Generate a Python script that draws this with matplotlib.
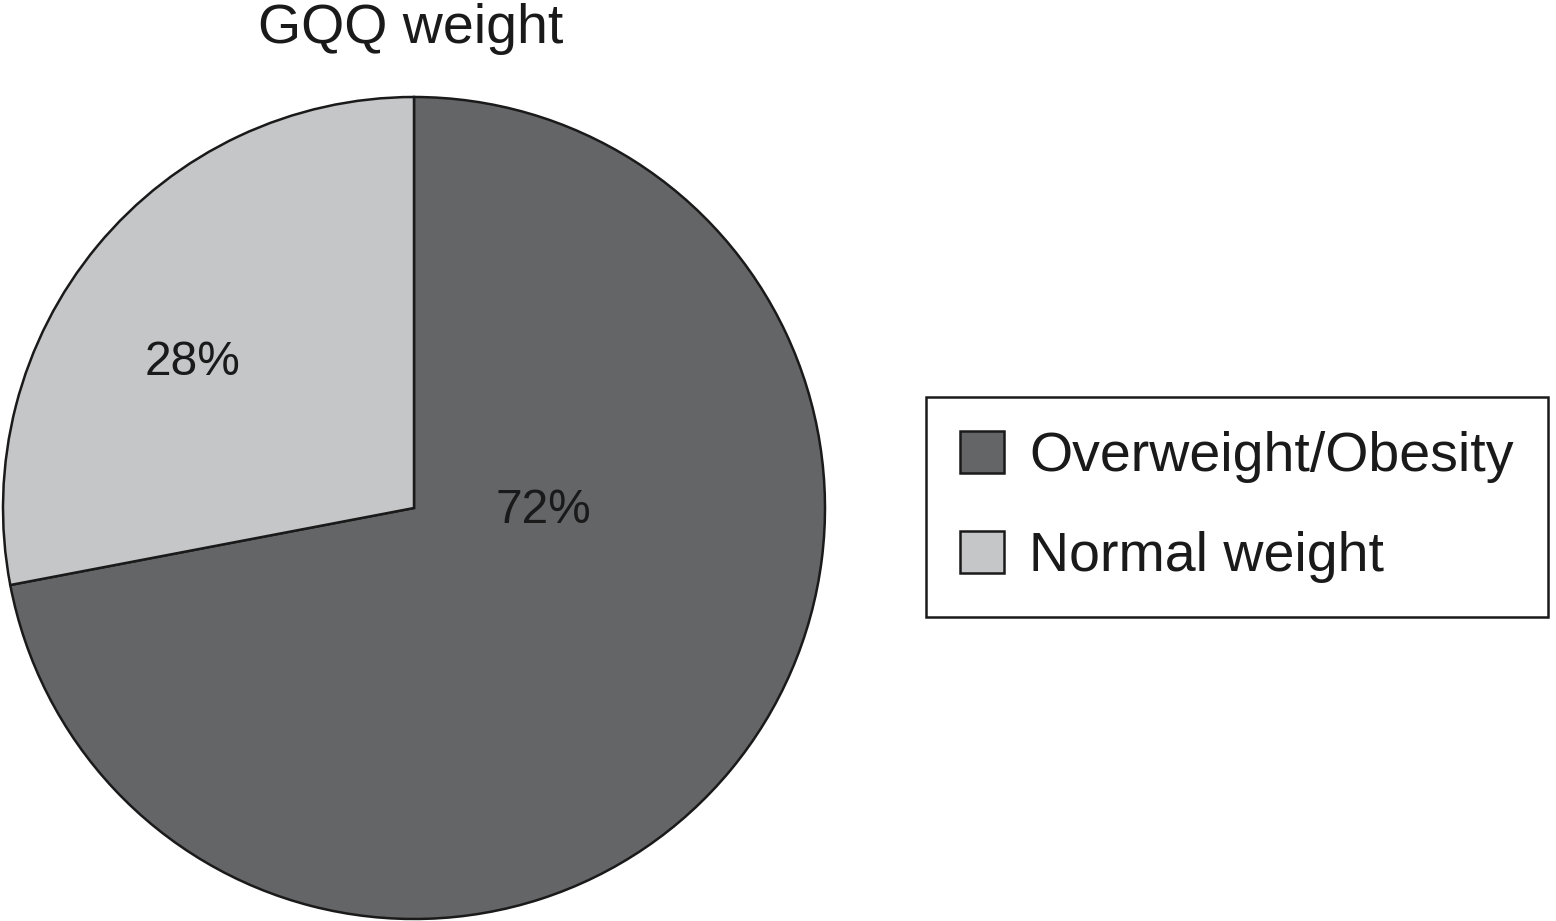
import matplotlib.pyplot as plt
from matplotlib.patches import Patch

plt.rcParams['font.family'] = ['Liberation Sans', 'DejaVu Sans']

# data
categories = ['Overweight/Obesity', 'Normal weight']
shares = [72, 28]
colors = ['#646567', '#c5c6c8']
title = 'GQQ weight'

W, H = 1556, 921
fig = plt.figure(figsize=(W / 100, H / 100), dpi=100)
fig.patch.set_facecolor('white')

# pie axes placed in pixel terms: centre (414, 508), radius 411
cx, cy, r = 414, 508, 411
ax = fig.add_axes([(cx - r) / W, 1 - (cy + r) / H, 2 * r / W, 2 * r / H])
wedges, _ = ax.pie(shares, colors=colors, startangle=90, counterclock=False,
                   radius=1.0, wedgeprops=dict(edgecolor='#1a1a1a', linewidth=1.8))
ax.set_xlim(-1.0, 1.0)
ax.set_ylim(-1.0, 1.0)
ax.axis('off')

# percent labels (positions relative to pie centre)
label_pos = [(0.314, -0.005), (-0.538, 0.355)]
for (lx, ly), v in zip(label_pos, shares):
    ax.text(lx, ly, f'{v}%', ha='center', va='center', fontsize=34.5, color='#1a1a1a')

fig.text(411 / W, 1 - 29 / H, title, ha='center', va='center', fontsize=40, color='#1a1a1a')

handles = [Patch(facecolor=c, edgecolor='#1a1a1a', linewidth=1.8) for c in colors]
leg = fig.legend(handles, categories, loc='center left',
                 bbox_to_anchor=(926 / W, 1 - 507 / H),
                 fontsize=40, frameon=True, fancybox=False, framealpha=1,
                 edgecolor='#1a1a1a', handlelength=0.79, handleheight=0.79,
                 handletextpad=0.45, labelspacing=0.85, borderpad=0.62,
                 borderaxespad=0)
leg.get_frame().set_linewidth(1.8)
for t in leg.get_texts():
    t.set_color('#1a1a1a')

fig.savefig('out.png', dpi=100)
